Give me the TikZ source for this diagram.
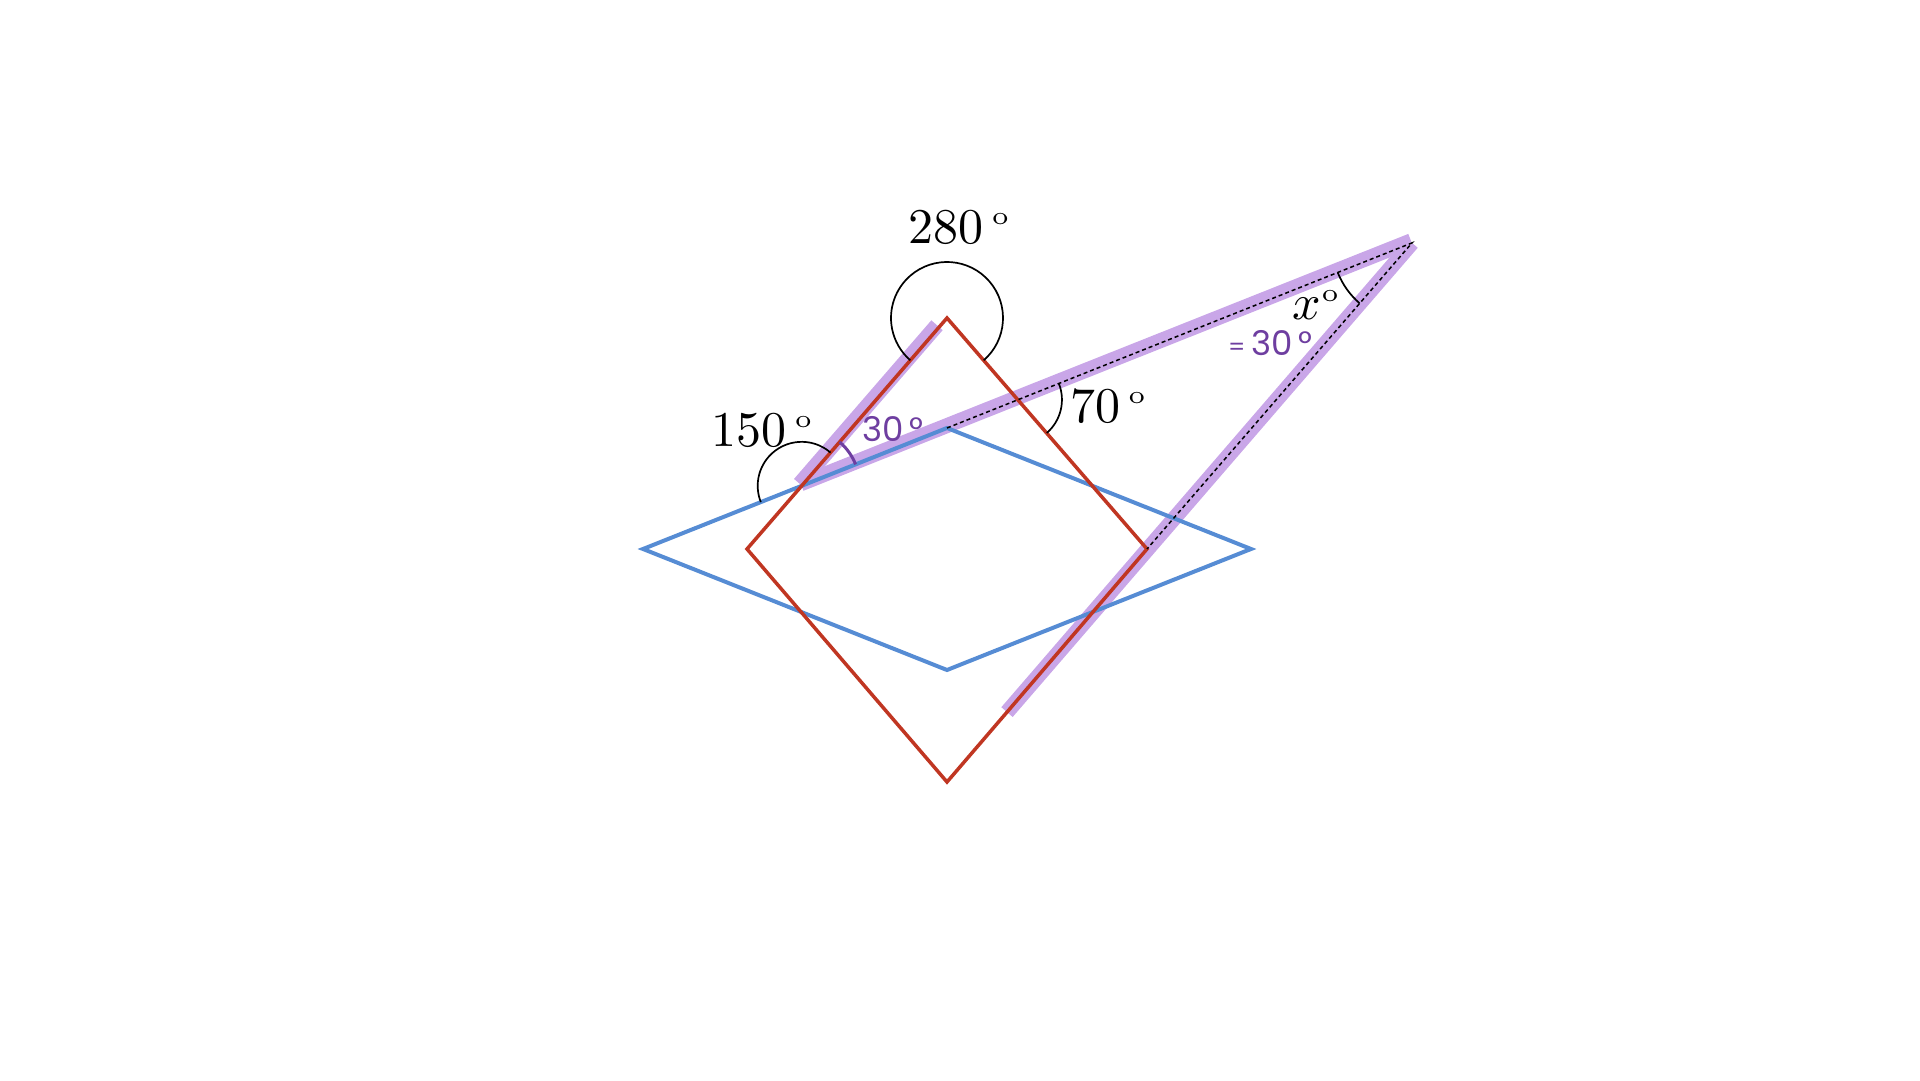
\documentclass[tikz,border=0pt]{standalone}
\usepackage{fontspec}
\newfontfamily\handfont{Poppins}
\usetikzlibrary{calc}
\pgfdeclarelayer{edgelayer}
\pgfdeclarelayer{nodelayer}
\pgfsetlayers{edgelayer,main,nodelayer}
\definecolor{rhombblue}{RGB}{86,140,212}
\definecolor{rhombred}{RGB}{192,54,34}
\definecolor{hilite}{RGB}{201,166,232}
\definecolor{notepurple}{RGB}{110,62,160}
\tikzstyle{bluerhomb}=[draw=rhombblue,line width=4pt]
\tikzstyle{redrhomb}=[draw=rhombred,line width=3.5pt]
\tikzstyle{highlight}=[draw=hilite,line width=15pt]
\tikzstyle{dotline}=[draw=black,line width=1.5pt,dash pattern=on 4pt off 3pt]
\tikzstyle{anglearc}=[draw=black,line width=1.7pt]
\tikzstyle{purplearc}=[draw=notepurple,line width=3pt]
\tikzstyle{anglelabel}=[font=\normalsize,scale=5,transform shape]
\tikzstyle{purplelabel}=[text=notepurple,font=\handfont\fontsize{34}{40}\selectfont]

\begin{document}
\begin{tikzpicture}[x=1pt,y=1pt]
	\useasboundingbox (0,0) rectangle (1920,1080);
	% rhombus corners
	\coordinate (bl) at (643,531);
	\coordinate (bt) at (947,652);
	\coordinate (br) at (1251,531);
	\coordinate (bb) at (947,410);
	\coordinate (rt) at (947,762);
	\coordinate (rl) at (747,531);
	\coordinate (rr) at (1147,531);
	\coordinate (rb) at (947,298);
	\coordinate (rd) at ($(rr)+(rt)-(rl)$);
	\coordinate (P) at (intersection of bl--bt and rl--rt);
	\coordinate (Q) at (intersection of bl--bt and rt--rr);
	\coordinate (A) at (intersection of bl--bt and rr--rd);
	\begin{pgfonlayer}{edgelayer}
		\draw [style=highlight] ([shift={(-2,2)}]P) -- ([shift={(-2,2)}]$(rl)!0.96!(rt)$);
		\draw [style=highlight] ([shift={(-1,2)}]P) -- ([shift={(-1,2)}]A);
		\draw [style=highlight] (A) -- ($(rr)!0.70!(rb)$);
	\end{pgfonlayer}
	\draw [style=bluerhomb] (bl) -- (bt) -- (br) -- (bb) -- cycle;
	\draw [style=redrhomb] (rt) -- (rr) -- (rb) -- (rl) -- cycle;
	\draw [style=dotline] (bt) -- (A) -- (rr);
	% angle marks
	\draw [style=anglearc] ([shift={(-49.1:56)}]rt) arc[start angle=-49.1, end angle=229.1, radius=56];
	\draw [style=anglearc] ([shift={(49.1:44)}]P) arc[start angle=49.1, end angle=201.7, radius=44];
	\draw [style=anglearc] ([shift={(-49.1:44)}]Q) arc[start angle=-49.1, end angle=21.7, radius=44];
	\draw [style=anglearc] ([shift={(201.7:80)}]A) arc[start angle=201.7, end angle=229.1, radius=80];
	\draw [style=purplearc] ([shift={(21.7:58)}]P) arc[start angle=21.7, end angle=49.1, radius=58];
	\begin{pgfonlayer}{nodelayer}
		\node [style=anglelabel] (t280) at (960,853) {$280\,^{\scriptscriptstyle\mathrm{o}}$};
		\node [style=anglelabel] (t150) at (763,650) {$150\,^{\scriptscriptstyle\mathrm{o}}$};
		\node [style=anglelabel] (t70) at (1109,674) {$70\,^{\scriptscriptstyle\mathrm{o}}$};
		\node [style=anglelabel] (tx) at (1317,775) {$x^{\scriptscriptstyle\mathrm{o}}$};
		\node [style=purplelabel] (t30a) at (893,651) {30\,°};
		\node [style=purplelabel] (t30b) at (1270,737) {{\fontsize{24}{30}\selectfont=}\,30\,°};
	\end{pgfonlayer}
\end{tikzpicture}
\end{document}
